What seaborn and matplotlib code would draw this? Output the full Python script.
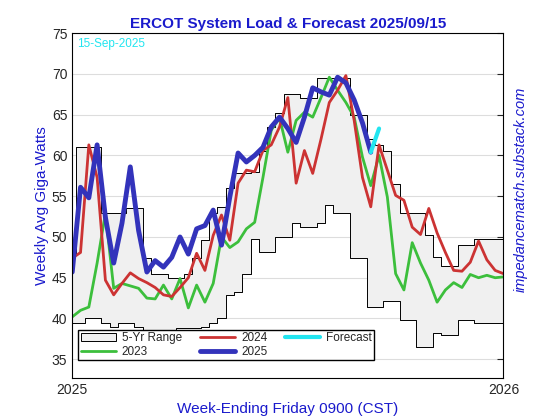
import numpy as np
import pandas as pd
import matplotlib
matplotlib.use("Agg")
import matplotlib.pyplot as plt
import seaborn as sns
from matplotlib.patches import Patch

sns.set_style("white")
plt.rcParams['font.family'] = ['Liberation Sans', 'DejaVu Sans']

# weekly average load, GW (week 0 = first week of 2025)
y2023 = [40.2, 41, 41.4, 46.8, 52.9, 43.7, 44.3, 44, 43.7, 42.5, 42.4, 44.1, 42.4, 44.9, 41.3, 44.1, 42,
         44.3, 50, 48.7, 49.4, 51, 51.8, 57.3, 63.1, 64.6, 60.4, 64.3, 65.3, 64.7, 67.1, 69.6, 68, 66.5,
         64.7, 59.8, 56.3, 60, 54.9, 45.5, 43.5, 49.3, 46.8, 44.7, 42, 43.5, 44.4, 43.8, 45.4, 45, 45.3, 45, 45.1]
y2024 = [47.4, 48.1, 61.3, 57.3, 44.7, 42.9, 44.3, 45.6, 44.9, 44.4, 43.8, 42.9, 42.7, 43.8, 45, 48, 45.9,
         50.2, 52.7, 49.6, 56.6, 58.2, 58, 60.6, 61.3, 63.5, 67.1, 56.6, 60.6, 57.8, 62, 66.5, 68, 69.8,
         64.3, 57.3, 53.7, 61.3, 58.2, 55.1, 54.5, 51.2, 50.3, 53.5, 50.5, 48.1, 45.9, 45.8, 46.9, 49.5, 47.2, 45.9, 45.5]
y2025 = [45.7, 56.1, 54.8, 61.3, 52.4, 46.8, 51.7, 58.6, 50.8, 45.7, 47.1, 46.3, 47.5, 50, 47.9, 51, 51.4,
         53.3, 49, 54.9, 60.3, 59.2, 60, 61, 63.5, 64.7, 63.3, 61.6, 64.7, 68.3, 67.8, 67.4, 69.6, 68.9,
         66.8, 64, 60.4]
forecast = [60.4, 63.3]
range_hi = [47.8, 61, 61, 61, 53, 53, 53, 53.6, 53.6, 47.4, 45.5, 45.5, 45, 45, 45.5, 47.4, 49.6, 53,
            53.7, 56, 57.8, 57.8, 58, 60.6, 63.5, 65.2, 67.5, 67.5, 67, 67, 69.5, 69.5, 69.5, 69.5, 65, 65,
            62, 61.3, 60.5, 56.5, 53, 53, 53, 50.2, 47.5, 46.5, 46.5, 49, 49, 49.8, 49.8, 49.8, 49.8]
range_lo = [39.5, 39.5, 40, 40, 39.5, 39, 39.5, 39.5, 39, 38.5, 38.5, 38.5, 38.5, 38.8, 38.8, 38.8, 39,
            39.5, 40, 42.9, 43.2, 45.5, 49.7, 48.1, 48.1, 50, 50, 51.7, 51.2, 51.2, 51.7, 53.9, 53, 53,
            47.4, 47.4, 41.4, 41.4, 42.2, 42.2, 39.8, 39.8, 36.5, 36.5, 38.2, 38, 38, 39.8, 39.8, 39.5,
            39.5, 39.5, 39.5]

weeks = np.arange(len(range_hi))

fig = plt.figure(figsize=(5.6, 4.2), dpi=100)
ax = fig.add_axes([0.129, 0.1, 0.77, 0.821])

ax.fill_between(weeks, range_lo, range_hi, step='mid', color='#f0f0f0', lw=0)
ax.step(weeks, range_hi, where='mid', color='black', lw=0.7)
ax.step(weeks, range_lo, where='mid', color='black', lw=0.7)

sns.lineplot(x=np.arange(len(y2023)), y=y2023, color='#3cbf3c', lw=2, ax=ax)
sns.lineplot(x=np.arange(len(y2024)), y=y2024, color='#cc3333', lw=2, ax=ax)
sns.lineplot(x=np.arange(len(y2025)), y=y2025, color='#3333bb', lw=3.5, ax=ax)
sns.lineplot(x=[len(y2025) - 1, len(y2025)], y=forecast, color='#22e5f0', lw=3, ax=ax)

ax.set_xlim(0, 52)
ax.set_ylim(32.7, 75)
ax.set_yticks(range(35, 76, 5))
ax.yaxis.grid(True, color='#dddddd', lw=0.8)
ax.set_xticks([0, 52])
ax.set_xticklabels(['2025', '2026'])
ax.tick_params(labelsize=10, colors='#262626', direction='in', right=True, length=4)
for s in ax.spines.values():
    s.set_color('black')
    s.set_linewidth(0.8)

ax.set_title('ERCOT System Load & Forecast 2025/09/15', color='#1a1acc', fontsize=11,
             fontweight='bold', pad=4)
ax.set_ylabel('Weekly Avg Giga-Watts', color='#1a1acc', fontsize=11, labelpad=2)
ax.set_xlabel('Week-Ending Friday 0900 (CST)', color='#1a1acc', fontsize=11, labelpad=4)
ax.text(0.01, 0.985, '15-Sep-2025', transform=ax.transAxes, color='#22e5f0', fontsize=8.5,
        va='top', ha='left')
fig.text(0.93, 0.55, 'impedancematch.substack.com', rotation=90, color='#1a1acc',
         fontsize=10.5, style='italic', va='center', ha='center')

handles = [Patch(facecolor='#f0f0f0', edgecolor='black', lw=0.7),
           plt.Line2D([], [], color='#3cbf3c', lw=2),
           plt.Line2D([], [], color='#cc3333', lw=2),
           plt.Line2D([], [], color='#3333bb', lw=3.5),
           plt.Line2D([], [], color='#22e5f0', lw=3)]
labels = ['5-Yr Range', '2023', '2024', '2025', 'Forecast']
ax.legend(handles, labels, ncol=3, loc='lower left', bbox_to_anchor=(0.0, 0.035), fontsize=8.5,
          frameon=True, fancybox=False, edgecolor='black', framealpha=1, borderpad=0.2,
          labelspacing=0.1, handlelength=3, columnspacing=1.5, handletextpad=0.5)

fig.savefig('out.png', dpi=100)
